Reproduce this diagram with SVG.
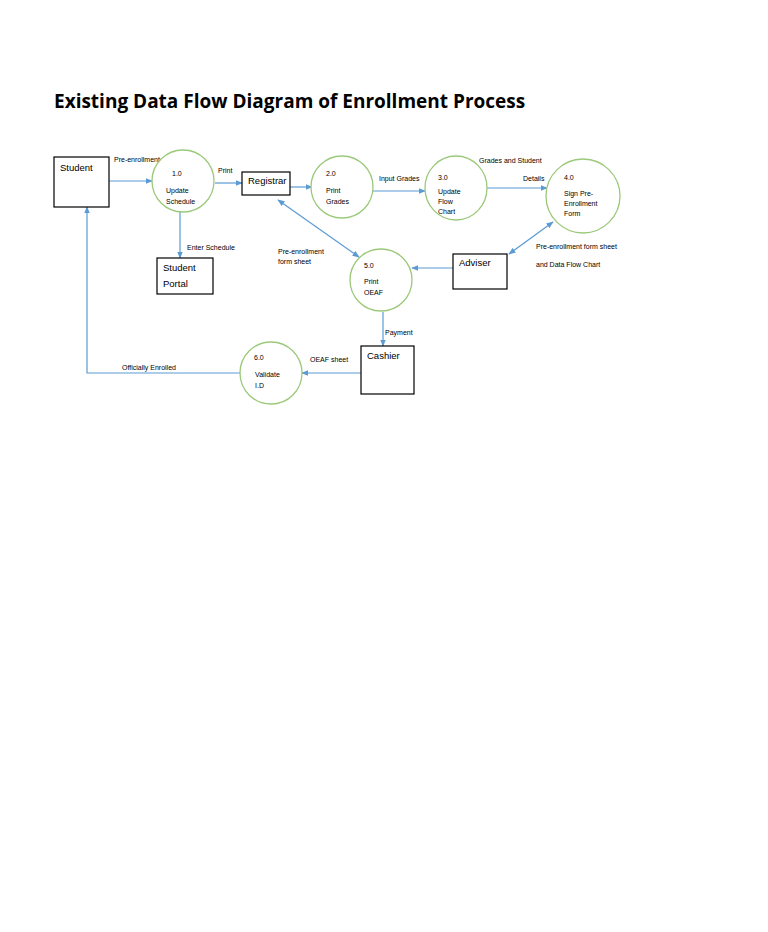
<svg xmlns="http://www.w3.org/2000/svg" width="768" height="932" viewBox="0 0 768 932">
<style>
.b{fill:#fff;stroke:#000;stroke-width:1.2}
.c{fill:#fff;stroke:#9bc97a;stroke-width:1.3}
.l{fill:none;stroke:#5b9bd5;stroke-width:1.2}
text{font-family:"Liberation Sans",Arial,sans-serif;font-size:7px;fill:#000}
.n{font-size:9.5px}
</style>
<defs>
<marker id="a" viewBox="0 0 10 10" refX="9" refY="5" markerWidth="6" markerHeight="6" orient="auto-start-reverse"><path d="M0,1 L10,5 L0,9 z" fill="#5b9bd5"/></marker>
</defs>
<rect width="768" height="932" fill="#fff"/>
<text x="54" y="108" style="font-size:19px;font-weight:bold;font-family:'Open Sans','Liberation Sans',sans-serif">Existing Data Flow Diagram of Enrollment Process</text>
<g id="connectors">
<line class="l" x1="109" y1="181" x2="152" y2="181" marker-end="url(#a)"/>
<line class="l" x1="215" y1="183" x2="242" y2="183" marker-end="url(#a)"/>
<line class="l" x1="290" y1="187" x2="312" y2="187" marker-end="url(#a)"/>
<line class="l" x1="373" y1="191" x2="425" y2="191" marker-end="url(#a)"/>
<line class="l" x1="487" y1="188" x2="547" y2="188" marker-end="url(#a)"/>
<line class="l" x1="553" y1="222" x2="509" y2="254" marker-start="url(#a)" marker-end="url(#a)"/>
<line class="l" x1="453" y1="268" x2="412" y2="268" marker-end="url(#a)"/>
<line class="l" x1="278" y1="200" x2="359" y2="257" marker-start="url(#a)" marker-end="url(#a)"/>
<line class="l" x1="180" y1="212" x2="180" y2="258" marker-end="url(#a)"/>
<line class="l" x1="383" y1="312" x2="383" y2="346" marker-end="url(#a)"/>
<line class="l" x1="361" y1="373" x2="302" y2="373" marker-end="url(#a)"/>
<polyline class="l" points="241,373 87,373 87,207" marker-end="url(#a)"/>
<text x="114" y="162">Pre-enrollment</text>
<text x="218" y="173">Print</text>
<text x="187" y="250">Enter Schedule</text>
<text x="379" y="181">Input Grades</text>
<text x="479" y="163">Grades and Student</text>
<text x="523" y="181">Details</text>
<text x="536" y="249">Pre-enrollment form sheet</text>
<text x="536" y="267">and Data Flow Chart</text>
<text x="278" y="254">Pre-enrollment</text>
<text x="278" y="264">form sheet</text>
<text x="385" y="335">Payment</text>
<text x="310" y="362">OEAF sheet</text>
<text x="122" y="370">Officially Enrolled</text>
</g>
<g id="student"><rect class="b" x="54" y="157" width="55" height="50"/><text class="n" x="60" y="171">Student</text></g>
<g id="p1"><circle class="c" cx="183" cy="181" r="31"/><text x="172" y="176">1.0</text><text x="166" y="193">Update</text><text x="166" y="204">Schedule</text></g>
<g id="registrar"><rect class="b" x="242" y="172" width="48" height="23"/><text class="n" x="248" y="184">Registrar</text></g>
<g id="p2"><circle class="c" cx="342" cy="187" r="31"/><text x="326" y="176">2.0</text><text x="326" y="193">Print</text><text x="326" y="204">Grades</text></g>
<g id="p3"><ellipse class="c" cx="456" cy="188" rx="31" ry="32"/><text x="438" y="180">3.0</text><text x="438" y="194">Update</text><text x="438" y="204">Flow</text><text x="438" y="214">Chart</text></g>
<g id="p4"><circle class="c" cx="583" cy="196" r="37"/><text x="564" y="180">4.0</text><text x="564" y="196">Sign Pre-</text><text x="564" y="206">Enrollment</text><text x="564" y="216">Form</text></g>
<g id="portal"><rect class="b" x="157" y="258" width="56" height="36"/><text class="n" x="163" y="271">Student</text><text class="n" x="163" y="287">Portal</text></g>
<g id="p5"><circle class="c" cx="381" cy="280" r="31"/><text x="364" y="268">5.0</text><text x="364" y="284">Print</text><text x="364" y="295">OEAF</text></g>
<g id="adviser"><rect class="b" x="453" y="254" width="54" height="35"/><text class="n" x="459" y="266">Adviser</text></g>
<g id="cashier"><rect class="b" x="361" y="346" width="53" height="48"/><text class="n" x="367" y="359">Cashier</text></g>
<g id="p6"><circle class="c" cx="271" cy="373" r="31"/><text x="254" y="360">6.0</text><text x="255" y="377">Validate</text><text x="255" y="388">I.D</text></g>
</svg>
